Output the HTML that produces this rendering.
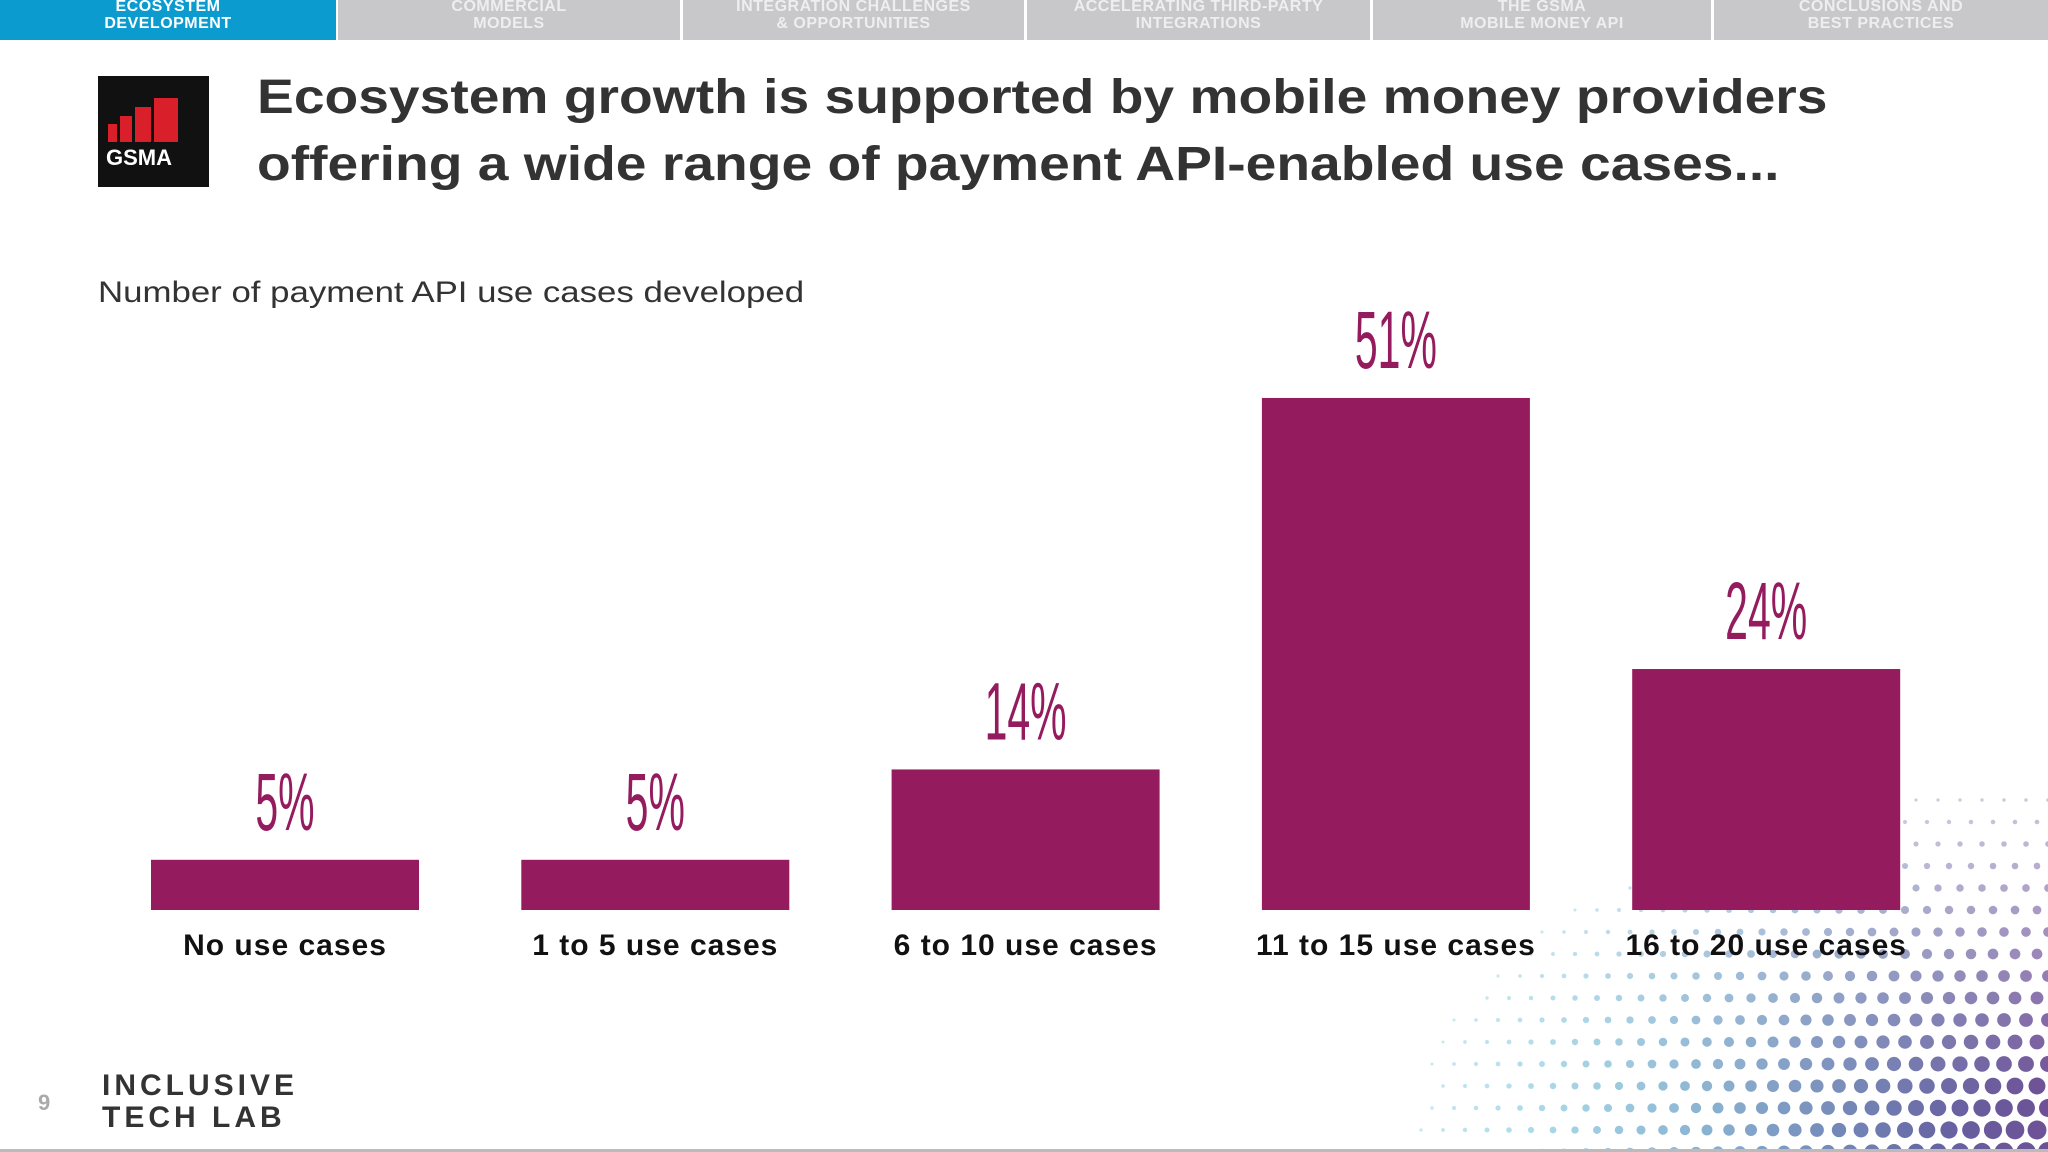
<!DOCTYPE html>
<html><head><meta charset="utf-8"><style>
body{margin:0;width:2048px;height:1152px;position:relative;overflow:hidden;background:#fff;font-family:"Liberation Sans",sans-serif}
.tab{position:absolute;top:0;height:40px;background:#c8c8ca;color:#eee;font-weight:bold;font-size:16px;text-align:center;line-height:17px;display:flex;align-items:center;justify-content:center;letter-spacing:0.5px}
.tab span{margin-top:-10px}
</style></head><body>
<div>
<div class="tab" style="left:0;width:336px;background:#0c9bcf;color:#fff"><span>ECOSYSTEM<br>DEVELOPMENT</span></div>
<div class="tab" style="left:338px;width:342px"><span>COMMERCIAL<br>MODELS</span></div>
<div class="tab" style="left:683px;width:341px"><span>INTEGRATION CHALLENGES<br>&amp; OPPORTUNITIES</span></div>
<div class="tab" style="left:1027px;width:343px"><span>ACCELERATING THIRD-PARTY<br>INTEGRATIONS</span></div>
<div class="tab" style="left:1373px;width:338px"><span>THE GSMA<br>MOBILE MONEY API</span></div>
<div class="tab" style="left:1714px;width:334px"><span>CONCLUSIONS AND<br>BEST PRACTICES</span></div>
</div>
<div style="position:absolute;left:98px;top:76px;width:111px;height:111px;background:#111">
<div style="position:absolute;left:10px;top:48px;width:9px;height:18px;background:#d9202a"></div>
<div style="position:absolute;left:22px;top:40px;width:12px;height:26px;background:#d9202a"></div>
<div style="position:absolute;left:37px;top:31px;width:16px;height:35px;background:#d9202a"></div>
<div style="position:absolute;left:56px;top:22px;width:24px;height:44px;background:#d9202a"></div>
<div style="position:absolute;left:8px;top:69px;color:#fff;font-size:22px;font-weight:bold">GSMA</div>
</div>
<div style="position:absolute;left:257px;top:64px;font-size:48px;font-weight:bold;color:#333;line-height:67px;white-space:nowrap;transform:scaleX(1.15);transform-origin:0 0">Ecosystem growth is supported by mobile money providers<br>offering a wide range of payment API-enabled use cases...</div>
<div style="position:absolute;left:98px;top:276px;font-size:30px;color:#333;white-space:nowrap;transform:scaleX(1.16);transform-origin:0 0">Number of payment API use cases developed</div>
<svg id="chart" width="2048" height="1152" style="position:absolute;left:0;top:0">
<g id="dots"></g><g id="bars"></g></svg>
<div style="position:absolute;left:38px;top:1090px;font-size:22px;color:#aaa;font-weight:bold">9</div>
<div style="position:absolute;left:102px;top:1070px;font-size:30px;font-weight:bold;color:#333;line-height:32px;letter-spacing:4px">INCLUSIVE<br>TECH LAB</div>
<div style="position:absolute;left:0;top:1149px;width:2048px;height:3px;background:#bbb"></div>
<script>
const categories=["No use cases","1 to 5 use cases","6 to 10 use cases","11 to 15 use cases","16 to 20 use cases"];
const values=[5,5,14,51,24];
const valueLabels=["5%","5%","14%","51%","24%"];
const NS="http://www.w3.org/2000/svg";
const base=910,perPct=10.04,x0=151,step=370.3,bw=268;
const yScale=v=>base-v*perPct;
const xScale=i=>x0+i*step;
const dots=document.getElementById('dots');
for(let r=0;r<26;r++)for(let c=0;c<34;c++){
 const x=2048-c*22-(r%2)*11, y=1152-r*22;
 const d=Math.hypot((2048-x)*0.8,(1152-y)*1.4);
 const rad=Math.max(0,10-d/60);
 if(rad<1.5||x<1300)continue;
 const t=Math.min(1,(2048-x)/550);
 const ci=document.createElementNS(NS,'circle');
 
 
 ci.setAttribute('cx',x);ci.setAttribute('cy',y);ci.setAttribute('r',rad);
 ci.setAttribute('fill',`rgb(${Math.round(110-40*t)},${Math.round(80+100*t)},${Math.round(150+60*t)})`);
 ci.setAttribute('opacity',Math.min(1,rad/10+0.15));
 dots.appendChild(ci);
}
const g=document.getElementById('bars');
values.forEach((v,i)=>{
 const x=xScale(i),y=yScale(v);
 const r=document.createElementNS(NS,'rect');
 
 
 r.setAttribute('x',x);r.setAttribute('y',y);r.setAttribute('width',bw);r.setAttribute('height',base-y);r.setAttribute('fill','#951b5f');
 g.appendChild(r);
 const t=document.createElementNS(NS,'text');
 
 
 t.setAttribute('transform',`translate(${x+bw/2},${y-30}) scale(0.5,1)`);
 t.setAttribute('text-anchor','middle');t.setAttribute('font-size','82');t.setAttribute('fill','#951b5f');
 t.setAttribute('font-family','Liberation Sans, sans-serif');
 t.textContent=valueLabels[i];g.appendChild(t);
 const c=document.createElementNS(NS,'text');
 
 
 c.setAttribute('x',x+bw/2);c.setAttribute('y',955);c.setAttribute('text-anchor','middle');
 c.setAttribute('font-size','30');c.setAttribute('font-weight','bold');c.setAttribute('fill','#111');
 c.setAttribute('letter-spacing','1');
 c.setAttribute('font-family','Liberation Sans, sans-serif');
 c.textContent=categories[i];g.appendChild(c);
});
</script>
</body></html>
